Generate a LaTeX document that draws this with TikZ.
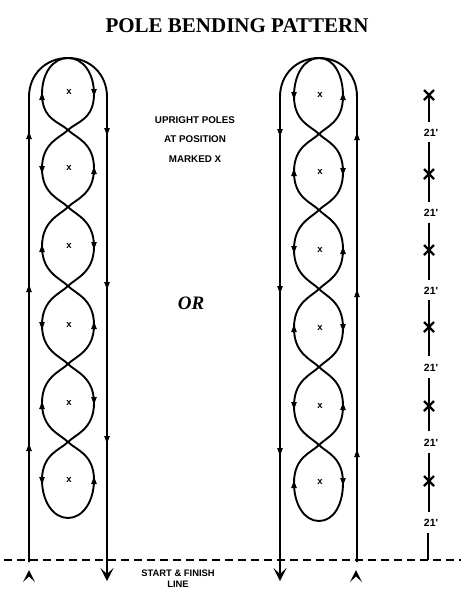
\documentclass[tikz,border=0pt]{standalone}
\usepackage{fontspec}
\setmainfont{Liberation Serif}
\newfontfamily\PBsans{Liberation Sans}
\usetikzlibrary{arrows.meta}
\newcommand\PBup[2]{\draw[amark] (#1,#2-3.5) -- (#1,#2+3.5);}
\newcommand\PBdn[2]{\draw[amark] (#1,#2+3.5) -- (#1,#2-3.5);}
\newcommand\PBchevup[2]{\fill (#1,#2) -- (#1+6,#2-12) -- (#1,#2-6.5) -- (#1-6,#2-12) -- cycle;}
\newcommand\PBchevdn[2]{\fill (#1,#2) -- (#1+6.5,#2+13) -- (#1,#2+7) -- (#1-6.5,#2+13) -- cycle;}
\newcommand\PBcross[2]{\draw[xmark] (#1-5,#2-5) -- (#1+5,#2+5) (#1-5,#2+5) -- (#1+5,#2-5);}
\begin{document}
\begin{tikzpicture}[x=1pt,y=1pt,
  pth/.style={line width=1.9pt},
  sc/.style={out distance=26pt,in distance=11pt},
  cs/.style={out distance=11pt,in distance=26pt},
  ts/.style={out distance=15pt,in distance=21pt},
  st/.style={out distance=21pt,in distance=15pt},
  oc/.style={out distance=23pt,in distance=22pt},
  co/.style={out distance=22pt,in distance=23pt},
  amark/.style={line width=0.8pt,-{Triangle[length=7.5pt,width=5.5pt]}},
  xmark/.style={line width=2.4pt},
  lbl/.style={font=\PBsans\bfseries\fontsize{9.8}{10}\selectfont, inner sep=0pt},
  lbls/.style={font=\PBsans\bfseries\fontsize{9.4}{10}\selectfont, inner sep=0pt},
  pole/.style={font=\PBsans\bfseries\fontsize{9.5}{9}\selectfont, inner sep=0pt},
  dist/.style={font=\PBsans\bfseries\fontsize{10.5}{10}\selectfont, inner sep=0pt, fill=white}]
\useasboundingbox (0,0) rectangle (474,-606);

% title
\node[font=\bfseries\fontsize{21}{21}\selectfont] (title) at (237,-25.5) {POLE BENDING PATTERN};

% ---------- left pattern ----------
\draw[pth] (68,-58) to[out=0,in=90,ts] (94,-94) to[out=-90,in=45,sc] (68,-130) to[out=225,in=90,cs] (42,-168.5) to[out=-90,in=135,sc] (68,-207) to[out=-45,in=90,cs] (94,-246.5) to[out=-90,in=45,sc] (68,-286) to[out=225,in=90,cs] (42,-325) to[out=-90,in=135,sc] (68,-364) to[out=-45,in=90,cs] (94,-403) to[out=-90,in=45,sc] (68,-442) to[out=225,in=90,cs] (42,-480) to[out=-90,in=180,st] (68,-518);
\draw[pth] (68,-58) to[out=180,in=90,ts] (42,-94) to[out=-90,in=135,sc] (68,-130) to[out=-45,in=90,cs] (94,-168.5) to[out=-90,in=45,sc] (68,-207) to[out=225,in=90,cs] (42,-246.5) to[out=-90,in=135,sc] (68,-286) to[out=-45,in=90,cs] (94,-325) to[out=-90,in=45,sc] (68,-364) to[out=225,in=90,cs] (42,-403) to[out=-90,in=135,sc] (68,-442) to[out=-45,in=90,cs] (94,-480) to[out=-90,in=0,st] (68,-518);
\draw[pth] (29,-562) -- (29,-97) to[out=90,in=180,oc] (68,-58) to[out=0,in=90,co] (107,-97) -- (107,-574);
\PBchevup{29}{-570}
\PBchevdn{107}{-581}
% outer arrows
\PBup{29}{-135} \PBup{29}{-288} \PBup{29}{-447}
\PBdn{107}{-132} \PBdn{107}{-286} \PBdn{107}{-440}
% lobe arrows
\PBup{42}{-96} \PBdn{94}{-93}
\PBdn{42}{-170} \PBup{94}{-170}
\PBup{42}{-248} \PBdn{94}{-246}
\PBdn{42}{-326} \PBup{94}{-325}
\PBup{42}{-405} \PBdn{94}{-401}
\PBdn{42}{-481} \PBup{94}{-480}
% poles
\node[pole] (l1) at (69,-92) {x};
\node[pole] (l2) at (69,-168) {x};
\node[pole] (l3) at (69,-246) {x};
\node[pole] (l4) at (69,-325) {x};
\node[pole] (l5) at (69,-403) {x};
\node[pole] (l6) at (69,-480) {x};

% ---------- right pattern ----------
\draw[pth] (319,-58) to[out=0,in=90,ts] (343,-96) to[out=-90,in=45,sc] (319,-134) to[out=225,in=90,cs] (294,-172) to[out=-90,in=135,sc] (319,-210) to[out=-45,in=90,cs] (343,-249.5) to[out=-90,in=45,sc] (319,-289) to[out=225,in=90,cs] (294,-328) to[out=-90,in=135,sc] (319,-367) to[out=-45,in=90,cs] (343,-406) to[out=-90,in=45,sc] (319,-445) to[out=225,in=90,cs] (294,-483) to[out=-90,in=180,st] (319,-521);
\draw[pth] (319,-58) to[out=180,in=90,ts] (294,-96) to[out=-90,in=135,sc] (319,-134) to[out=-45,in=90,cs] (343,-172) to[out=-90,in=45,sc] (319,-210) to[out=225,in=90,cs] (294,-249.5) to[out=-90,in=135,sc] (319,-289) to[out=-45,in=90,cs] (343,-328) to[out=-90,in=45,sc] (319,-367) to[out=225,in=90,cs] (294,-406) to[out=-90,in=135,sc] (319,-445) to[out=-45,in=90,cs] (343,-483) to[out=-90,in=0,st] (319,-521);
\draw[pth] (280,-574) -- (280,-97) to[out=90,in=180,oc] (319,-58) to[out=0,in=90,co] (357,-97) -- (357,-562);
\PBchevdn{280}{-581}
\PBchevup{356}{-570}
\PBdn{280}{-133} \PBdn{280}{-290} \PBdn{280}{-452}
\PBup{357}{-136} \PBup{357}{-293} \PBup{357}{-453}
\PBdn{294}{-96} \PBup{343}{-96}
\PBup{294}{-172} \PBdn{343}{-172}
\PBdn{294}{-250} \PBup{343}{-250}
\PBup{294}{-328} \PBdn{343}{-328}
\PBdn{294}{-406} \PBup{343}{-406}
\PBup{294}{-484} \PBdn{343}{-482}
\node[pole] (r1) at (320,-95) {x};
\node[pole] (r2) at (320,-172) {x};
\node[pole] (r3) at (320,-250) {x};
\node[pole] (r4) at (320,-328) {x};
\node[pole] (r5) at (320,-406) {x};
\node[pole] (r6) at (320,-482) {x};

% ---------- distance column ----------
\draw[pth] (429,-95) -- (429,-122) (429,-142) -- (429,-202) (429,-223) -- (429,-280)
  (429,-300) -- (429,-356) (429,-378) -- (429,-431) (429,-453) -- (429,-512) (428,-533) -- (428,-560);
\PBcross{429}{-95} \PBcross{429}{-174} \PBcross{429}{-250}
\PBcross{429}{-327} \PBcross{429}{-406} \PBcross{429}{-481}
\node[dist] (d1) at (431,-133) {21'};
\node[dist] (d2) at (431,-213) {21'};
\node[dist] (d3) at (431,-291) {21'};
\node[dist] (d4) at (431,-368) {21'};
\node[dist] (d5) at (431,-443) {21'};
\node[dist] (d6) at (431,-523) {21'};

% ---------- start line ----------
\draw[line width=2.4pt, dash pattern=on 8pt off 5pt] (4,-560) -- (461,-560);
\node[lbls] (start) at (178,-573) {START \& FINISH};
\node[lbls] (line) at (178,-584) {LINE};

% ---------- notes ----------
\node[lbl] (n1) at (195,-120) {UPRIGHT POLES};
\node[lbl] (n2) at (195,-139.5) {AT POSITION};
\node[lbl] (n3) at (195,-159) {MARKED X};
\node[font=\bfseries\itshape\fontsize{19}{19}\selectfont] (or) at (191,-303) {OR};
\end{tikzpicture}
\end{document}
